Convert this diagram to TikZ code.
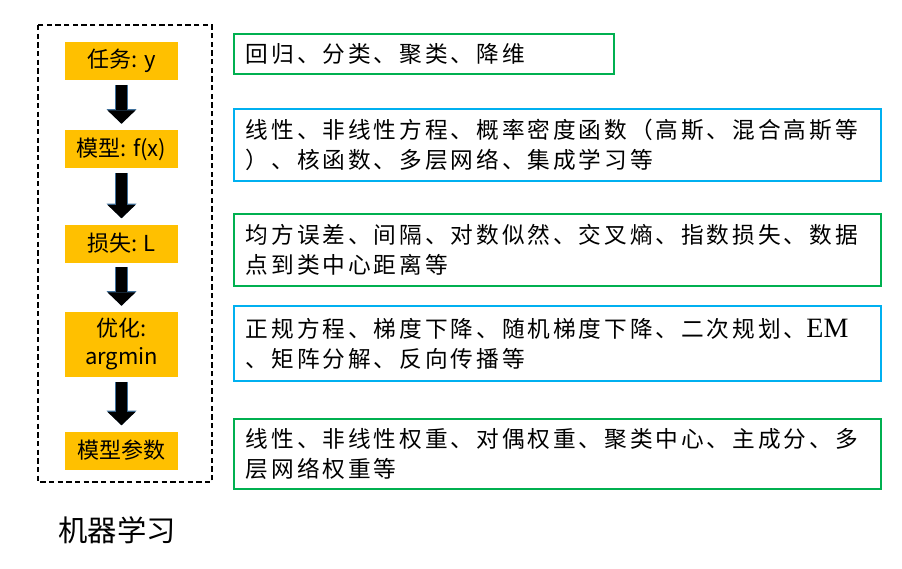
\documentclass[tikz,border=0pt]{standalone}
\usepackage{fontspec}
\usepackage{tikz}
\usetikzlibrary{arrows.meta}
\newfontfamily\cjk{Noto Sans CJK SC}
\newfontfamily\cjkwide{Noto Sans CJK SC}[LetterSpace=13]
\newfontfamily\latinserif{Liberation Serif}
\tikzset{>={Triangle[width=21pt,length=10pt,line width=0pt]}}
\definecolor{gold}{HTML}{FFC000}
\definecolor{green}{HTML}{00B050}
\definecolor{blue}{HTML}{00B0F0}
\definecolor{steel}{HTML}{41719C}
\tikzset{
  stage/.style={fill=gold, minimum width=84.75pt, minimum height=28.5pt,
    inner sep=0pt, align=center, font=\cjk\fontsize{16.5}{21}\selectfont},
  note/.style={draw=#1, line width=1.4pt, anchor=north west, inner xsep=9pt,
    inner ysep=0pt, align=left, font=\cjkwide\fontsize{17}{22.5}\selectfont},
  flow/.style={->, line width=8.25pt,
    preaction={draw=steel, line width=9.75pt,
      -{Triangle[width=22.5pt,length=11pt,line width=0pt]}}}
}

\begin{document}
\begin{tikzpicture}[x=0.75pt, y=-0.75pt]
\useasboundingbox (0,0) rectangle (902,568);

\draw[dash pattern=on 4pt off 2.5pt, line width=1.1pt] (38,25) rectangle (212,482);

\node[stage] (task)   at (121.5,61)    {任务: y};
\node[stage] (model)  at (121.5,149)   {模型: f(x)};
\node[stage] (loss)   at (121.5,243.5) {损失: L};
\node[stage, minimum height=48.75pt] (optim) at (121.5,344.5) {优化:\\argmin};
\node[stage] (params) at (121.5,450.5) {模型参数};

\draw[flow] ([yshift=-3.5pt]task.south)  -- ([yshift=4.5pt]model.north);
\draw[flow] ([yshift=-3.5pt]model.south) -- ([yshift=4.5pt]loss.north);
\draw[flow] ([yshift=-3.5pt]loss.south)  -- ([yshift=4.5pt]optim.north);
\draw[flow] ([yshift=-3.5pt]optim.south) -- ([yshift=4.5pt]params.north);

\node[note=green, text width=267pt, minimum height=30pt] (tasknote) at (233,33)
  {回归、分类、聚类、降维};
\node[note=blue, text width=467.25pt, minimum height=54pt] (modelnote) at (233,108)
  {线性、非线性方程、概率密度函数（高斯、混合高斯等\\）、核函数、多层网络、集成学习等};
\node[note=green, text width=467.25pt, minimum height=54pt] (lossnote) at (233,213)
  {均方误差、间隔、对数似然、交叉熵、指数损失、数据\\点到类中心距离等};
\node[note=blue, text width=467.25pt, minimum height=56.25pt] (optimnote) at (233,305)
  {正规方程、梯度下降、随机梯度下降、二次规划、{\latinserif\fontsize{21}{22.5}\selectfont EM}\\、矩阵分解、反向传播等};
\node[note=green, text width=467.25pt, minimum height=52.5pt] (paramsnote) at (233,418)
  {线性、非线性权重、对偶权重、聚类中心、主成分、多\\层网络权重等};

\node[font=\cjk\fontsize{22}{26}\selectfont] (title) at (117,530) {机器学习};
\end{tikzpicture}
\end{document}
